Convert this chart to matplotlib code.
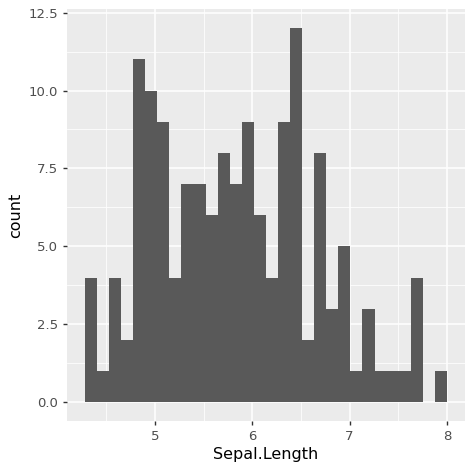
import matplotlib
matplotlib.use("Agg")
import matplotlib.pyplot as plt
import numpy as np
from matplotlib.ticker import MultipleLocator

# Histogram counts (30 bins)
counts = [4, 1, 4, 2, 11, 10, 9, 4, 7, 7, 6, 8, 7, 9, 6,
          4, 9, 12, 2, 8, 3, 5, 1, 3, 1, 1, 1, 4, 0, 1]
bin_start = 4.28
bin_width = 0.124
x_ticks = [5, 6, 7, 8]
y_ticks = [0.0, 2.5, 5.0, 7.5, 10.0, 12.5]

lefts = bin_start + bin_width * np.arange(len(counts))

fig = plt.figure(figsize=(4.74, 4.74), dpi=100)
ax = fig.add_axes([0.141, 0.112, 0.840, 0.868])
ax.set_facecolor("#EBEBEB")
ax.bar(lefts, counts, width=bin_width, align="edge", color="#595959", linewidth=0, zorder=3)

x0, x1 = bin_start, bin_start + bin_width * len(counts)
pad = (x1 - x0) * 0.05
ax.set_xlim(x0 - pad, x1 + pad)
ax.set_ylim(-0.6, 12.6)
ax.set_xticks(x_ticks)
ax.set_yticks(y_ticks)
ax.set_yticklabels([f"{v:.1f}" for v in y_ticks])
ax.xaxis.set_minor_locator(MultipleLocator(0.5))
ax.yaxis.set_minor_locator(MultipleLocator(1.25))
ax.grid(True, which="major", color="white", linewidth=1.1, zorder=1)
ax.grid(True, which="minor", color="white", linewidth=0.55, zorder=1)
for s in ax.spines.values():
    s.set_visible(False)
ax.tick_params(which="major", length=3, width=1, color="#333333",
               labelcolor="#4D4D4D", labelsize=9.5)
ax.tick_params(which="minor", length=0)
ax.set_xlabel("Sepal.Length", fontsize=11.5, labelpad=3)
ax.set_ylabel("count", fontsize=11.5, labelpad=4)

fig.savefig("out.png", dpi=100)
